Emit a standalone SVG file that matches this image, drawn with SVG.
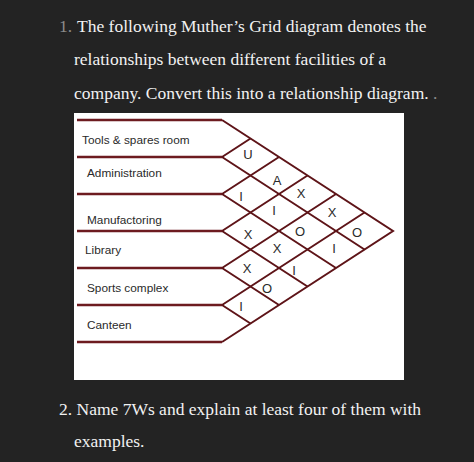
<svg xmlns="http://www.w3.org/2000/svg" width="474" height="462" viewBox="0 0 474 462">
<style>
.q{font-family:"Liberation Serif","Times New Roman",serif;font-size:17.5px;fill:#f2f2f2}
.n{fill:#8c8c8c}
.r{font-family:"Liberation Sans",Arial,sans-serif;font-size:11.8px;fill:#2a2a2a}
.c{font-family:"Liberation Sans",Arial,sans-serif;font-size:13px;fill:#2a2a2a;text-anchor:middle}
.h{stroke:#6d1b20;stroke-width:2.4;fill:none}
.d{stroke:#5e1418;stroke-width:2;fill:none;stroke-linejoin:miter}
</style>
<rect x="0" y="0" width="474" height="462" fill="#232323"/>
<g id="question1">
<text class="q" x="59" y="32"><tspan class="n">1.</tspan></text>
<text class="q" x="77" y="32">The following Muther’s Grid diagram denotes the</text>
<text class="q" x="74" y="65">relationships between different facilities of a</text>
<text class="q" x="74" y="99">company. Convert this into a relationship diagram. <tspan class="n">.</tspan></text>
</g>
<rect id="panel" x="74" y="113" width="330" height="267" fill="#ffffff"/>
<g id="connectors">
<path class="h" d="M77 120H222M77 157H222M77 194H222M77 231H222M77 268H222M77 305H222M77 342H222"/>
<path class="d" d="M222 120L393 231L222 342"/>
<path class="d" d="M222 157L364.5 249.5M222 194L336 268M222 231L307.5 286.5M222 268L279 305M222 305L250.5 323.5"/>
<path class="d" d="M222 157L250.5 138.5M222 194L279 157M222 231L307.5 175.5M222 268L336 194M222 305L364.5 212.5"/>
</g>
<g id="row-tools"><text class="r" x="82" y="144">Tools &amp; spares room</text></g>
<g id="row-admin"><text class="r" x="87" y="177">Administration</text></g>
<g id="row-manufactoring"><text class="r" x="87" y="224">Manufactoring</text></g>
<g id="row-library"><text class="r" x="85" y="254">Library</text></g>
<g id="row-sports"><text class="r" x="87" y="292">Sports complex</text></g>
<g id="row-canteen"><text class="r" x="87" y="329">Canteen</text></g>
<g id="cells">
<g id="c01"><text class="c" x="248" y="159">U</text></g>
<g id="c02"><text class="c" x="277" y="185">A</text></g>
<g id="c12"><text class="c" x="241" y="201">I</text></g>
<g id="c03"><text class="c" x="301" y="198">X</text></g>
<g id="c13"><text class="c" x="274" y="215">I</text></g>
<g id="c04"><text class="c" x="332" y="217">X</text></g>
<g id="c23"><text class="c" x="248" y="239">X</text></g>
<g id="c14"><text class="c" x="300" y="236">O</text></g>
<g id="c24"><text class="c" x="277" y="253">X</text></g>
<g id="c05"><text class="c" x="357" y="237">O</text></g>
<g id="c15"><text class="c" x="334" y="253">I</text></g>
<g id="c34"><text class="c" x="247" y="273">X</text></g>
<g id="c25"><text class="c" x="294" y="275">I</text></g>
<g id="c35"><text class="c" x="267" y="293">O</text></g>
<g id="c45"><text class="c" x="241" y="311">I</text></g>
</g>
<g id="question2">
<text class="q" x="59" y="415">2. Name 7Ws and explain at least four of them with</text>
<text class="q" x="74" y="447">examples.</text>
</g>
</svg>
